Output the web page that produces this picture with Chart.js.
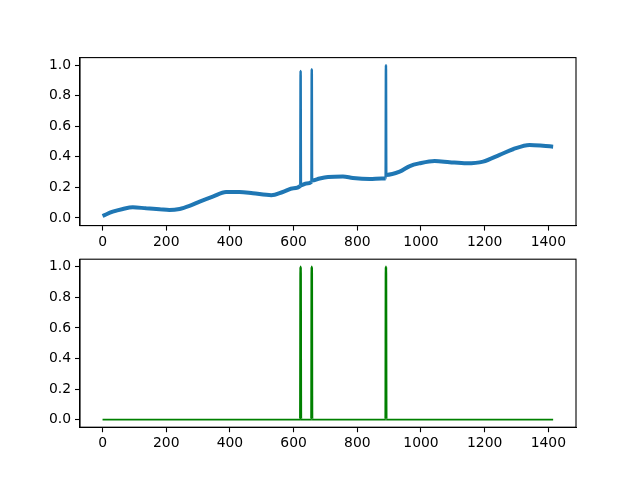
<!DOCTYPE html>
<html>
<head>
<meta charset="utf-8">
<script src="https://cdn.jsdelivr.net/npm/chart.js@4/dist/chart.umd.min.js"></script>
<style>
  body { margin: 0; background: #fff; }
  #wrap { position: relative; width: 640px; height: 480px; }
  canvas { position: absolute; left: 0; top: 0; }
</style>
</head>
<body>
<div id="wrap">
  <canvas id="topChart" width="640" height="480"></canvas>
  <canvas id="bottomChart" width="640" height="480"></canvas>
</div>
<script>
// signal (with the three spikes)
var signalX = [0, 32, 64, 95, 137, 179, 210, 242, 273, 305, 346, 388, 430, 472, 530, 566, 600,
  621, 622, 623, 640, 656, 657, 658, 682, 708, 755, 786, 839, 876, 889, 890, 891,
  933, 965, 996, 1043, 1090, 1143, 1195, 1247, 1289, 1341, 1383, 1415];
var signalY = [0.013, 0.041, 0.059, 0.07, 0.063, 0.057, 0.052, 0.059, 0.079, 0.107, 0.14, 0.17, 0.17, 0.162, 0.149, 0.17, 0.195,
  0.21, 0.963, 0.215, 0.225, 0.235, 0.974, 0.245, 0.258, 0.268, 0.272, 0.262, 0.255, 0.258, 0.258, 1.0, 0.282,
  0.303, 0.34, 0.358, 0.373, 0.365, 0.358, 0.369, 0.413, 0.45, 0.478, 0.473, 0.467];

// detected spikes (bottom panel)
var flagX = [0, 621, 622, 623, 656, 657, 658, 889, 890, 891, 1415];
var flagY = [0, 0, 1, 0, 0, 1, 0, 0, 1, 0, 0];

var xTicks = [0, 200, 400, 600, 800, 1000, 1200, 1400];
var yTicks = [0.0, 0.2, 0.4, 0.6, 0.8, 1.0];

var font = { family: 'DejaVu Sans', size: 13.9 };

// matplotlib-like box around the plot area
var frame = {
  id: 'frame',
  afterDraw: function (chart) {
    var a = chart.chartArea, c = chart.ctx;
    c.save();
    c.strokeStyle = '#000';
    c.lineWidth = 1.1;
    c.strokeRect(a.left, a.top, a.right - a.left, a.bottom - a.top);
    c.restore();
  }
};

function makeChart(id, xs, ys, color, width, spikeWidth, padTop, padBottom) {
  return new Chart(document.getElementById(id), {
    type: 'line',
    data: {
      datasets: [{
        data: xs.map(function (x, i) { return { x: x, y: ys[i] }; }),
        borderColor: color,
        borderWidth: width,
        borderJoinStyle: 'bevel',
        borderCapStyle: 'butt',
        segment: {
          borderWidth: function (ctx) {
            return (ctx.p0.parsed.y > 0.5 || ctx.p1.parsed.y > 0.5) ? spikeWidth : width;
          }
        },
        pointRadius: 0,
        cubicInterpolationMode: 'monotone',
        fill: false
      }]
    },
    options: {
      responsive: false,
      animation: false,
      layout: { padding: { left: 20, right: 64, top: padTop, bottom: padBottom } },
      plugins: { legend: { display: false }, tooltip: { enabled: false } },
      scales: {
        x: {
          type: 'linear',
          min: -70.8, max: 1486.8,
          afterFit: function (s) { s.height = 30; },
          afterBuildTicks: function (s) { s.ticks = xTicks.map(function (v) { return { value: v }; }); },
          ticks: {
            color: '#000', font: font, padding: 3, maxRotation: 0,
            callback: function (v) { return String(v); }
          },
          grid: { drawOnChartArea: false, tickLength: 5, tickColor: '#000', tickWidth: 1.1 },
          border: { color: '#000', width: 1.1 }
        },
        y: {
          min: -0.05, max: 1.05,
          afterFit: function (s) { s.width = 60; },
          afterBuildTicks: function (s) { s.ticks = yTicks.map(function (v) { return { value: v }; }); },
          ticks: {
            color: '#000', font: font, padding: 4,
            callback: function (v) { return Number(v).toFixed(1); }
          },
          grid: { drawOnChartArea: false, tickLength: 5, tickColor: '#000', tickWidth: 1.1 },
          border: { color: '#000', width: 1.1 }
        }
      }
    },
    plugins: [frame]
  });
}

makeChart('topChart', signalX, signalY, '#1f77b4', 4, 2.5, 57.6, 224.4);
makeChart('bottomChart', flagX, flagY, '#008000', 1.8, 2.5, 259.2, 22.8);
</script>
</body>
</html>
